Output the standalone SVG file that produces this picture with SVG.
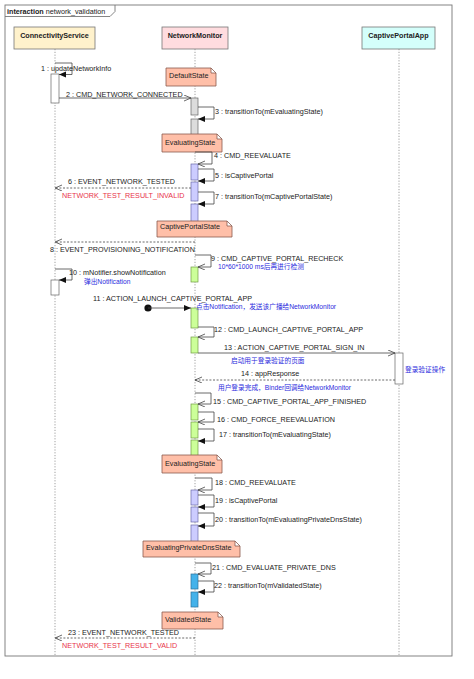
<svg xmlns="http://www.w3.org/2000/svg" width="474" height="679" viewBox="0 0 474 679">
<style>
text{font-family:"Liberation Sans",Arial,"Noto Sans CJK SC",sans-serif;font-size:7.2px;fill:#222}
.b{font-weight:bold}
.red{fill:#e8334a}
.blue{fill:#2b2bdd;font-size:6.7px}
.head{stroke:#777;stroke-width:0.8}
.life{stroke:#888;stroke-width:0.8;stroke-dasharray:1.2,1.6;fill:none}
.act{stroke:#666;stroke-width:0.7}
.gray{fill:#dcdcdc}
.white{fill:#fff}
.purple{fill:#ccccff;stroke:#6a6aa8}
.green{fill:#ccff99;stroke:#6f9a44}
.cyan{fill:#44b2ea;stroke:#2d6f9a}
.note{fill:#ffbfa8;stroke:#8a5a4e;stroke-width:0.8}
.msg{stroke:#444;stroke-width:0.8;fill:none}
.dash{stroke-dasharray:2,1.6}
.fill{marker-end:url(#af)}
.open{marker-end:url(#ao)}
</style>
<defs>
<marker id="af" markerUnits="userSpaceOnUse" markerWidth="8" markerHeight="7" refX="7" refY="3" orient="auto"><path d="M0,0 L7,3 L0,6 z" fill="#111"/></marker>
<marker id="ao" markerUnits="userSpaceOnUse" markerWidth="8" markerHeight="7" refX="7" refY="3" orient="auto"><path d="M0,0 L7,3 L0,6" fill="none" stroke="#444" stroke-width="0.8"/></marker>
</defs>
<rect width="474" height="679" fill="#fff"/>
<g id="frame">
<rect x="5" y="5" width="447" height="651" fill="none" stroke="#777" stroke-width="0.9"/>
<path d="M5,16.5 H110 L115,11.5 V5" fill="none" stroke="#777" stroke-width="0.9"/>
<text x="7" y="14"><tspan class="b">interaction</tspan> network_validation</text>
</g>
<g id="ConnectivityService">
<rect class="head" x="14" y="27" width="81" height="22" fill="#fff2cc"/>
<text class="b" x="54.5" y="37.5" text-anchor="middle">ConnectivityService</text>
<line class="life" x1="55" y1="49" x2="55" y2="656"/>
<rect class="act white" x="51" y="74" width="8" height="29"/>
<rect class="act white" x="51" y="280" width="8" height="15"/>
</g>
<g id="NetworkMonitor">
<rect class="head" x="162" y="27" width="66" height="22" fill="#ffdcdf"/>
<text class="b" x="195" y="37.5" text-anchor="middle">NetworkMonitor</text>
<line class="life" x1="195" y1="49" x2="195" y2="656"/>
<rect class="act gray" x="191" y="98" width="7" height="17"/>
<rect class="act gray" x="191" y="119" width="7" height="18"/>
<rect class="act purple" x="191" y="164" width="7" height="16"/>
<rect class="act purple" x="191" y="182" width="7" height="19"/>
<rect class="act purple" x="191" y="204" width="7" height="20"/>
<rect class="act green" x="191" y="267" width="7" height="15"/>
<rect class="act green" x="191" y="308" width="7" height="20"/>
<rect class="act green" x="191" y="337" width="7" height="16"/>
<rect class="act green" x="191" y="404" width="7" height="16"/>
<rect class="act green" x="191" y="422" width="7" height="16"/>
<rect class="act green" x="191" y="440" width="7" height="18"/>
<rect class="act purple" x="191" y="490" width="7" height="15"/>
<rect class="act purple" x="191" y="507" width="7" height="15"/>
<rect class="act purple" x="191" y="525" width="7" height="18"/>
<rect class="act cyan" x="191" y="574" width="7" height="15"/>
<rect class="act cyan" x="191" y="592" width="7" height="15"/>
</g>
<g id="CaptivePortalApp">
<rect class="head" x="362" y="27" width="73" height="22" fill="#d4fffb"/>
<text class="b" x="398.5" y="37.5" text-anchor="middle">CaptivePortalApp</text>
<line class="life" x1="399" y1="49" x2="399" y2="656"/>
<rect class="act white" x="395" y="353" width="8" height="31"/>
<text class="blue" x="405" y="371.6">登录验证操作</text>
</g>
<g id="DefaultState">
<path class="note" d="M166,68 H211 L216,73 V86 H166 Z M211,68 V73 H216"/>
<text x="169" y="77.6">DefaultState</text>
</g>
<g id="EvaluatingState1">
<path class="note" d="M162,134 H217 L222,139 V152 H162 Z M217,134 V139 H222"/>
<text x="165" y="145.3">EvaluatingState</text>
</g>
<g id="CaptivePortalState">
<path class="note" d="M157,221 H227 L232,226 V237 H157 Z M227,221 V226 H232"/>
<text x="160" y="229.3">CaptivePortalState</text>
</g>
<g id="EvaluatingState2">
<path class="note" d="M162,455 H217 L222,460 V473 H162 Z M217,455 V460 H222"/>
<text x="165" y="466">EvaluatingState</text>
</g>
<g id="EvaluatingPrivateDnsState">
<path class="note" d="M143,541 H235 L240,546 V557 H143 Z M235,541 V546 H240"/>
<text x="146" y="550.3">EvaluatingPrivateDnsState</text>
</g>
<g id="ValidatedState">
<path class="note" d="M162,612 H218 L223,617 V629 H162 Z M218,612 V617 H223"/>
<text x="165" y="621.6">ValidatedState</text>
</g>
<g id="connectors">
<path class="msg fill" d="M55,63 H72 V74.5 H59"/>
<text x="41" y="71">1 : updateNetworkInfo</text>
<path class="msg open" d="M59,98 H191"/>
<text x="66" y="96.6">2 : CMD_NETWORK_CONNECTED</text>
<path class="msg fill" d="M198,107 H214 V119 H198"/>
<text x="215" y="114.3">3 : transitionTo(mEvaluatingState)</text>
<path class="msg open" d="M195,152 H212 V164 H198"/>
<text x="214" y="158.3">4 : CMD_REEVALUATE</text>
<path class="msg fill" d="M198,169 H214 V181 H198"/>
<text x="215" y="178">5 : isCaptivePortal</text>
<path class="msg dash open" d="M191,188 H55"/>
<text x="68" y="184.3">6 : EVENT_NETWORK_TESTED</text>
<text class="red" x="62" y="197.6">NETWORK_TEST_RESULT_INVALID</text>
<path class="msg fill" d="M198,192 H214 V204 H198"/>
<text x="215" y="198.6">7 : transitionTo(mCaptivePortalState)</text>
<path class="msg dash open" d="M195,242 H55"/>
<text x="50" y="252">8 : EVENT_PROVISIONING_NOTIFICATION</text>
<path class="msg open" d="M195,255 H211 V267 H198"/>
<text x="211" y="261.3">9 : CMD_CAPTIVE_PORTAL_RECHECK</text>
<text class="blue" x="218" y="268.6">10*60*1000 ms后再进行检测</text>
<path class="msg fill" d="M55,269 H72 V280 H59"/>
<text x="69" y="275.3">10 : mNotifier.showNotification</text>
<text class="blue" x="84" y="283.6">弹出Notification</text>
<circle cx="148" cy="308" r="3.6" fill="#111"/>
<path class="msg fill" d="M148,308 H191"/>
<text x="93" y="301">11 : ACTION_LAUNCH_CAPTIVE_PORTAL_APP</text>
<text class="blue" x="196" y="309">点击Notification，发送该广播给NetworkMonitor</text>
<path class="msg open" d="M198,327 H214 V337 H198"/>
<text x="214" y="332">12 : CMD_LAUNCH_CAPTIVE_PORTAL_APP</text>
<path class="msg open" d="M198,353 H395"/>
<text x="224" y="350">13 : ACTION_CAPTIVE_PORTAL_SIGN_IN</text>
<text class="blue" x="231" y="363.3">启动用于登录验证的页面</text>
<path class="msg dash open" d="M395,380 H195"/>
<text x="241" y="376">14 : appResponse</text>
<text class="blue" x="218" y="390">用户登录完成，Binder回调给NetworkMonitor</text>
<path class="msg open" d="M195,393 H211 V404 H198"/>
<text x="213" y="403.6">15 : CMD_CAPTIVE_PORTAL_APP_FINISHED</text>
<path class="msg open" d="M198,412 H214 V422 H198"/>
<text x="217" y="421.6">16 : CMD_FORCE_REEVALUATION</text>
<path class="msg fill" d="M198,429 H214 V441 H198"/>
<text x="219" y="437">17 : transitionTo(mEvaluatingState)</text>
<path class="msg open" d="M195,478 H212 V490 H198"/>
<text x="215" y="485.3">18 : CMD_REEVALUATE</text>
<path class="msg fill" d="M198,495 H214 V507 H198"/>
<text x="215" y="503.3">19 : isCaptivePortal</text>
<path class="msg fill" d="M198,513 H214 V526 H198"/>
<text x="215" y="521.6">20 : transitionTo(mEvaluatingPrivateDnsState)</text>
<path class="msg open" d="M195,563 H211 V574 H198"/>
<text x="212" y="570">21 : CMD_EVALUATE_PRIVATE_DNS</text>
<path class="msg fill" d="M198,581 H214 V592 H198"/>
<text x="214" y="588">22 : transitionTo(mValidatedState)</text>
<path class="msg dash open" d="M195,638 H55"/>
<text x="68" y="635">23 : EVENT_NETWORK_TESTED</text>
<text class="red" x="62" y="648">NETWORK_TEST_RESULT_VALID</text>
</g>
</svg>
